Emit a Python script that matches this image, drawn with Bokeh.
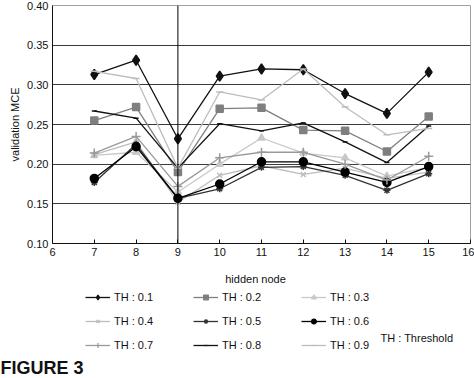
from bokeh.plotting import figure
from bokeh.layouts import column
from bokeh.models import (Span, Label, Legend, LegendItem, FixedTicker,
                          PrintfTickFormatter, Range1d)
from bokeh.embed import file_html
from bokeh.resources import INLINE

# ---------------- data ----------------
hidden_nodes = [7, 8, 9, 10, 11, 12, 13, 14, 15]
th_01 = [0.313, 0.331, 0.232, 0.311, 0.320, 0.319, 0.289, 0.264, 0.316]
th_02 = [0.255, 0.272, 0.190, 0.270, 0.271, 0.243, 0.242, 0.216, 0.260]
th_03 = [0.211, 0.215, 0.165, 0.200, 0.233, 0.214, 0.208, 0.185, 0.196]
th_04 = [0.212, 0.228, 0.152, 0.186, 0.198, 0.187, 0.195, 0.182, 0.190]
th_05 = [0.177, 0.225, 0.157, 0.169, 0.196, 0.197, 0.186, 0.167, 0.188]
th_06 = [0.182, 0.222, 0.157, 0.175, 0.203, 0.203, 0.190, 0.177, 0.197]
th_07 = [0.214, 0.235, 0.172, 0.208, 0.215, 0.215, 0.200, 0.180, 0.210]
th_08 = [0.267, 0.258, 0.195, 0.251, 0.242, 0.252, 0.228, 0.202, 0.248]
th_09 = [0.317, 0.308, 0.195, 0.291, 0.281, 0.320, 0.272, 0.237, 0.245]
series_labels = ["TH : 0.1", "TH : 0.2", "TH : 0.3", "TH : 0.4", "TH : 0.5",
                 "TH : 0.6", "TH : 0.7", "TH : 0.8", "TH : 0.9"]
y_ticks = [0.10, 0.15, 0.20, 0.25, 0.30, 0.35, 0.40]
x_ticks = [6, 7, 8, 9, 10, 11, 12, 13, 14, 15, 16]

series = [th_01, th_02, th_03, th_04, th_05, th_06, th_07, th_08, th_09]
styles = [
    ("#111111", "diamond", 10),
    ("#7f7f7f", "square", 7),
    ("#c8c8c8", "triangle", 7),
    ("#bdbdbd", "x", 7),
    ("#333333", "asterisk", 7),
    ("#000000", "circle", 8),
    ("#999999", "cross", 9),
    ("#111111", "dash", 5),
    ("#bdbdbd", "dash", 7),
]

FONT = "Liberation Sans"
NAN = float("nan")

# ---------------- main chart ----------------
p = figure(width=474, height=260, output_backend="svg", toolbar_location=None,
           x_range=Range1d(6, 16), y_range=Range1d(0.10, 0.40),
           min_border_left=52, min_border_right=4, min_border_top=5,
           min_border_bottom=17)
p.frame_align = False

p.background_fill_color = "white"
p.border_fill_color = "white"
p.outline_line_color = "#a0a0a0"
p.xgrid.visible = False
p.ygrid.grid_line_color = "#3a3a3a"
p.ygrid.grid_line_width = 1
p.ygrid.ticker = FixedTicker(ticks=y_ticks)

p.yaxis.ticker = FixedTicker(ticks=y_ticks)
p.yaxis.formatter = PrintfTickFormatter(format="%.2f")
p.xaxis.ticker = FixedTicker(ticks=x_ticks)
for ax in (p.xaxis, p.yaxis):
    ax.major_label_text_font = FONT
    ax.major_label_text_font_size = "11px"
    ax.major_label_text_color = "#111111"
    ax.axis_line_color = "#111111"
    ax.minor_tick_line_color = None
    ax.major_tick_line_color = "#111111"
p.yaxis.major_tick_in = 0
p.yaxis.major_tick_out = 0
p.yaxis.major_label_standoff = 4
p.yaxis.axis_label = "validation MCE"
p.yaxis.axis_label_text_font = FONT
p.yaxis.axis_label_text_font_size = "11px"
p.yaxis.axis_label_text_font_style = "normal"
p.yaxis.axis_label_text_color = "#111111"
p.yaxis.axis_label_standoff = 3
p.xaxis.major_tick_in = 4
p.xaxis.major_tick_out = 0
p.xaxis.major_label_standoff = 4

p.add_layout(Span(location=9, dimension="height", line_color="#000000", line_width=1))

for vals, (col, mk, sz) in zip(series, styles):
    p.line(hidden_nodes, vals, line_color=col, line_width=1.3)
    p.scatter(hidden_nodes, vals, marker=mk, size=sz, line_color=col,
              fill_color=col, line_width=1.5)

# ---------------- bottom panel: axis title, legend, caption ----------------
q = figure(width=474, height=118, output_backend="svg", toolbar_location=None,
           x_range=Range1d(0, 474), y_range=Range1d(118, 0),
           x_axis_type=None, y_axis_type=None,
           min_border=0, min_border_left=0, min_border_right=0,
           min_border_top=0, min_border_bottom=0)
q.frame_align = False
q.outline_line_color = None
q.grid.visible = False
q.background_fill_color = "white"
q.border_fill_color = "white"

items = []
for lab, (col, mk, sz) in zip(series_labels, styles):
    # legend-key placeholders (NaN: nothing is drawn on the canvas itself)
    lr = q.line([NAN, NAN], [NAN, NAN], line_color=col, line_width=1.3)
    sr = q.scatter([NAN], [NAN], marker=mk, size=sz, line_color=col,
                   fill_color=col, line_width=1.2)
    items.append(LegendItem(label=lab, renderers=[lr, sr]))

legend = Legend(items=items, orientation="horizontal", ncols=3,
                location=(85, 23),
                label_text_font=FONT, label_text_font_size="11px",
                label_text_color="#111111",
                glyph_width=25, glyph_height=12, label_height=20, label_width=75,
                label_standoff=4, spacing=4, padding=0, margin=0,
                border_line_alpha=0, background_fill_alpha=0)
q.add_layout(legend, "center")

q.add_layout(Label(x=255, y=18, text="hidden node", text_align="center",
                   text_baseline="middle", text_font=FONT, text_font_size="11px",
                   text_color="#111111"))
q.add_layout(Label(x=380, y=77, text="TH : Threshold", text_align="left",
                   text_baseline="middle", text_font=FONT, text_font_size="11px",
                   text_color="#111111"))
q.add_layout(Label(x=0, y=97, text="FIGURE 3", text_align="left",
                   text_baseline="top", text_font=FONT,
                   text_font_size="18px", text_font_style="bold",
                   text_color="#111111"))

layout = column(p, q, spacing=0)
open("out.html", "w").write(file_html(layout, INLINE))
